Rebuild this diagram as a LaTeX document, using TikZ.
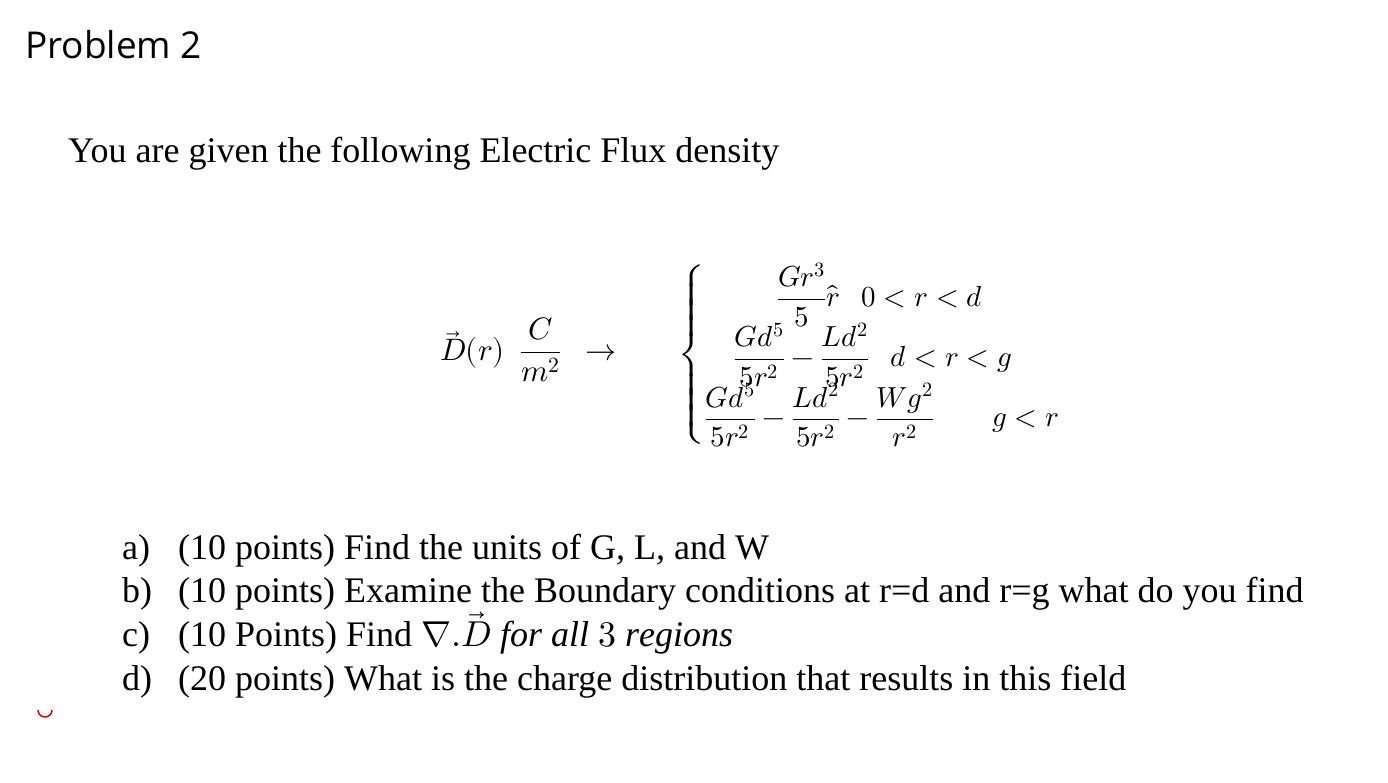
\documentclass[tikz,border=0pt]{standalone}
\usepackage{amsmath}
\usepackage{unicode-math}
\setmainfont{Liberation Serif}
\setmathfont{Latin Modern Math}
\newfontfamily\titlefont{Open Sans}
\tikzset{txt/.style={anchor=west,inner sep=0pt},
item/.style={anchor=base west,inner sep=0pt,font=\fontsize{36}{40}\selectfont}}
\begin{document}
\begin{tikzpicture}[x=1pt,y=-1pt]
\useasboundingbox (0,0) rectangle (1388,783);
\node[txt,font=\titlefont\fontsize{37}{42}\selectfont] (title) at (25,45) {Problem 2};
\node[item,font=\fontsize{36}{40}\selectfont] (intro) at (68,163) {You are given the following Electric Flux density};
\node[txt,font=\fontsize{31}{36}\selectfont] (lhs) at (440,350) {$\vec{D}(r)\ \ \dfrac{C}{m^2}\ \ \to$};
\node[txt,font=\fontsize{29}{34}\selectfont] (cases) at (678,355) {$\left\{\renewcommand{\arraystretch}{1.1}\begin{array}{@{}l@{}}
\qquad\ \ \dfrac{Gr^3}{5}\hat{r}\ \ \ 0<r<d\\[-4pt]
\quad\dfrac{Gd^5}{5r^2}-\dfrac{Ld^2}{5r^2}\ \ \ d<r<g\\[-4pt]
\dfrac{Gd^5}{5r^2}-\dfrac{Ld^2}{5r^2}-\dfrac{Wg^2}{r^2}\qquad g<r
\end{array}\right.$};
\node[item] (la) at (122,559) {a)};
\node[item] (ta) at (178,559) {(10 points) Find the units of G, L, and W};
\node[item] (lb) at (122,602) {b)};
\node[item] (tb) at (178,602) {(10 points) Examine the Boundary conditions at r=d and r=g what do you find};
\node[item] (lc) at (122,646) {c)};
\node[item] (tc) at (178,646) {(10 Points) Find $\nabla.\vec{D}\ \mathit{for\ all}\ 3\ \mathit{regions}$};
\node[item] (ld) at (122,690) {d)};
\node[item] (td) at (178,690) {(20 points) What is the charge distribution that results in this field};
\draw[red!80!black,line width=1.5pt] (38,710) arc (180:0:7);
\end{tikzpicture}
\end{document}
